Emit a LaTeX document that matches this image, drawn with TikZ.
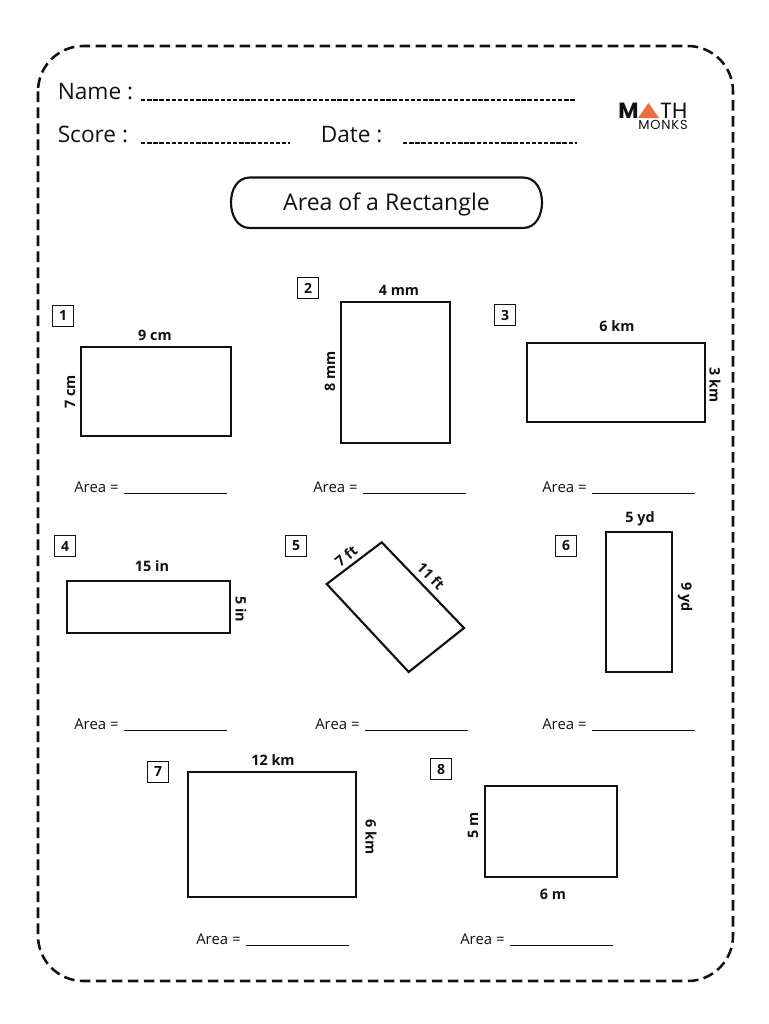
\documentclass[tikz,border=0pt]{standalone}
\usepackage{fontspec}
\setmainfont{Open Sans}
\newfontfamily\logofont{Poppins}
\newfontfamily\logosmall[LetterSpace=6]{Poppins}
\definecolor{ink}{HTML}{111111}
\definecolor{logoorange}{HTML}{E8703F}
\tikzset{
  x=0.75pt,y=-0.75pt,
  border/.style={draw=ink,line width=1.9pt,dash pattern=on 8pt off 4pt,rounded corners=34pt},
  blank/.style={draw=ink,line width=0.8pt,dash pattern=on 3.3pt off 1.3pt},
  hdr/.style={anchor=west,inner sep=0pt,text=ink,font=\fontsize{17}{20}\selectfont},
  titlebox/.style={draw=ink,line width=1.6pt},
  titletext/.style={inner sep=0pt,text=ink,font=\fontsize{17.3}{20}\selectfont},
  fig/.style={draw=ink,line width=1.6pt,line join=miter},
  numbox/.style={draw=ink,line width=0.9pt,minimum size=15.5pt,inner sep=0pt,text=ink,font=\fontsize{10.5}{12}\selectfont\bfseries},
  dim/.style={inner sep=0pt,text=ink,font=\fontsize{10.8}{12}\selectfont\bfseries},
  arealabel/.style={anchor=west,inner sep=0pt,text=ink,font=\fontsize{11.2}{13}\selectfont},
  arealine/.style={draw=ink,line width=0.7pt},
}
\begin{document}
\begin{tikzpicture}
\useasboundingbox (0,0) rectangle (768,1024);
\fill[white] (0,0) rectangle (768,1024);
% outer dashed border
\draw[border] (38,46) rectangle (733,981);
% header
\node[hdr] (name) at (57.5,91.5) {Name :};
\node[hdr] (score) at (57.5,134.5) {Score :};
\node[hdr] (date) at (320.5,134.5) {Date :};
\draw[blank] (141,100) -- (575,100);
\draw[blank] (141,143) -- (290,143);
\draw[blank] (403,143) -- (577,143);
% logo
\node[anchor=base west,inner sep=0pt,text=ink,font=\logofont\fontsize{16.5}{18}\selectfont\bfseries] (logom) at (618,118) {M};
\fill[logoorange] (648.5,103) -- (659,118) -- (638,118) -- cycle;
\node[anchor=base east,inner sep=0pt,text=ink,font=\logofont\fontsize{16.5}{18}\selectfont] (logoth) at (687.5,118) {TH};
\node[anchor=base east,inner sep=0pt,text=ink,font=\logosmall\fontsize{9.8}{11}\selectfont] (logomonks) at (688,129) {MONKS};
% title
\draw[titlebox] (250,177.5) -- (523,177.5) .. controls (536,177.5) and (542,190) .. (542,202.5)
  .. controls (542,215) and (536,228) .. (523,228) -- (250,228)
  .. controls (237,228) and (231,215) .. (231,202.5) .. controls (231,190) and (237,177.5) .. (250,177.5) -- cycle;
\node[titletext] (title) at (386.5,204.5) {Area of a Rectangle};
% number boxes
\foreach \n/\x/\y in {1/63/316,2/308/288,3/505/315,4/65/546,5/296/546,6/566/546,7/158/772,8/441/769}{
  \node[numbox] (num\n) at (\x,\y) {\n};
}
% shapes
\draw[fig] (81,347) rectangle (231,436);
\draw[fig] (341,302) rectangle (450,443);
\draw[fig] (527,343) rectangle (705,422);
\draw[fig] (67,581) rectangle (230,633);
\draw[fig] (381.7,542.3) -- (464,628) -- (408.7,672) -- (326.7,584) -- cycle;
\draw[fig] (606,532) rectangle (672,672);
\draw[fig] (188,772) rectangle (356,897);
\draw[fig] (485,786) rectangle (617,877);
% dimensions
\node[dim] (d1a) at (155,335.5) {9 cm};
\node[dim,rotate=90] (d1b) at (70,392) {7 cm};
\node[dim] (d2a) at (399,290.5) {4 mm};
\node[dim,rotate=90] (d2b) at (330,371) {8 mm};
\node[dim] (d3a) at (617,326.5) {6 km};
\node[dim,rotate=-90] (d3b) at (715,385) {3 km};
\node[dim] (d4a) at (152,566) {15 in};
\node[dim,rotate=-90] (d4b) at (241,609) {5 in};
\node[dim,rotate=40] (d5a) at (346,556) {7 ft};
\node[dim,rotate=-46] (d5b) at (431,576) {11 ft};
\node[dim] (d6a) at (640,518.5) {5 yd};
\node[dim,rotate=-90] (d6b) at (685,597) {9 yd};
\node[dim] (d7a) at (273,760) {12 km};
\node[dim,rotate=-90] (d7b) at (371,837) {6 km};
\node[dim,rotate=90] (d8a) at (473,825) {5 m};
\node[dim] (d8b) at (553,894) {6 m};
% area lines
\foreach \n/\x/\y in {1/74/487,2/313/487,3/542/487,4/74/724,5/315/724,6/542/724,7/196/939,8/460/939}{
  \node[arealabel] (area\n) at (\x,\y) {Area =};
  \draw[arealine] (\x+50,\y+6) -- (\x+153,\y+6);
}
\end{tikzpicture}
\end{document}
